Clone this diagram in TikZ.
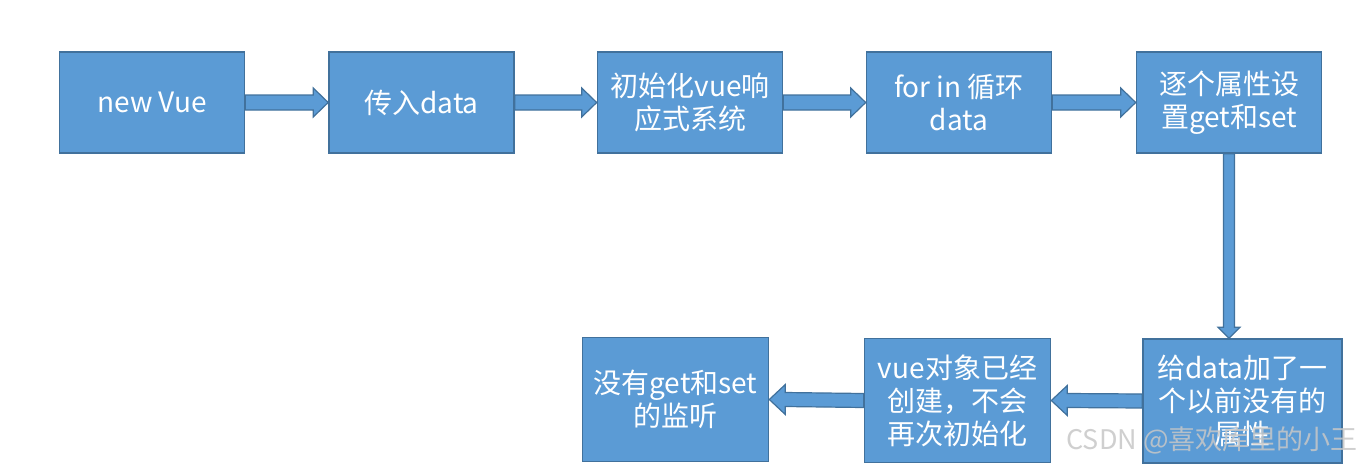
\documentclass[tikz,border=0pt]{standalone}
\usepackage{fontspec}
\setmainfont{Noto Sans CJK SC}
\usetikzlibrary{calc}
\usetikzlibrary{positioning}
\definecolor{boxblue}{HTML}{5B9BD5}
\definecolor{boxline}{HTML}{41719C}

\begin{document}
\begin{tikzpicture}[x=0.5pt,y=-0.5pt,
	stepbox/.style={rectangle, draw=boxline, fill=boxblue, line width=0.8pt, text=white,
		align=center, font=\fontsize{14}{16.5}\selectfont, inner sep=0pt},
	topbox/.style={stepbox, minimum width=92.5pt, minimum height=50.5pt},
	lowbox/.style={stepbox, minimum width=93pt, minimum height=62pt},
	blockarrow/.style={draw=boxline, fill=boxblue, line width=0.6pt, line join=miter}]
	\useasboundingbox (0,0) rectangle (1359,467);

	\node[topbox] (newvue) at (152,102.5) {new Vue};
	\node[topbox] (passdata) at (421.5,102.5) {传入data};
	\node[topbox] (initsys) at (690,102.5) {初始化vue响\\应式系统};
	\node[topbox] (forin) at (959,102.5) {for in 循环\\data};
	\node[topbox] (setget) at (1229,102.5) {逐个属性设\\置get和set};
	\node[stepbox, minimum width=99.5pt, minimum height=62pt] (adddata) at (1242.5,401) {给data加了一\\个以前没有的\\属性};
	\node[lowbox] (created) at (957.5,400.5) {vue对象已经\\创建，不会\\再次初始化};
	\node[lowbox] (nowatch) at (675.5,399.5) {没有get和set\\的监听};

	% arrows along the top row
	\draw[blockarrow] ($(newvue.east)+(0,-7.5)$) -- ($(passdata.west)+(-15,-7.5)$) -- ($(passdata.west)+(-15,-14.5)$) -- (passdata.west) -- ($(passdata.west)+(-15,14.5)$) -- ($(passdata.west)+(-15,7.5)$) -- ($(newvue.east)+(0,7.5)$) -- cycle;
	\draw[blockarrow] ($(passdata.east)+(0,-7.5)$) -- ($(initsys.west)+(-15,-7.5)$) -- ($(initsys.west)+(-15,-14.5)$) -- (initsys.west) -- ($(initsys.west)+(-15,14.5)$) -- ($(initsys.west)+(-15,7.5)$) -- ($(passdata.east)+(0,7.5)$) -- cycle;
	\draw[blockarrow] ($(initsys.east)+(0,-7.5)$) -- ($(forin.west)+(-15,-7.5)$) -- ($(forin.west)+(-15,-14.5)$) -- (forin.west) -- ($(forin.west)+(-15,14.5)$) -- ($(forin.west)+(-15,7.5)$) -- ($(initsys.east)+(0,7.5)$) -- cycle;
	\draw[blockarrow] ($(forin.east)+(0,-7.5)$) -- ($(setget.west)+(-15,-7.5)$) -- ($(setget.west)+(-15,-14.5)$) -- (setget.west) -- ($(setget.west)+(-15,14.5)$) -- ($(setget.west)+(-15,7.5)$) -- ($(forin.east)+(0,7.5)$) -- cycle;

	% down to the new property
	\coordinate (droptip) at (setget.south |- adddata.north);
	\draw[blockarrow] ($(setget.south)+(-5.5,0)$) -- ($(droptip)+(-5.5,-11)$) -- ($(droptip)+(-11,-11)$) -- (droptip) -- ($(droptip)+(11,-11)$) -- ($(droptip)+(5.5,-11)$) -- ($(setget.south)+(5.5,0)$) -- cycle;

	% arrows along the bottom row
	\draw[blockarrow] ($(adddata.west)+(0,-7)$) -- ($(created.east)+(16,-7)$) -- ($(created.east)+(16,-15)$) -- (created.east) -- ($(created.east)+(16,15)$) -- ($(created.east)+(16,7)$) -- ($(adddata.west)+(0,7)$) -- cycle;
	\draw[blockarrow] ($(created.west)+(0,-7)$) -- ($(nowatch.east)+(16,-7)$) -- ($(nowatch.east)+(16,-15)$) -- (nowatch.east) -- ($(nowatch.east)+(16,15)$) -- ($(nowatch.east)+(16,7)$) -- ($(created.west)+(0,7)$) -- cycle;

	\node[text=black!22, opacity=0.85, font=\fontsize{13.5}{16}\selectfont, anchor=west, inner sep=0pt] (mark) at (1066,440) {CSDN @喜欢库里的小王};
\end{tikzpicture}
\end{document}
